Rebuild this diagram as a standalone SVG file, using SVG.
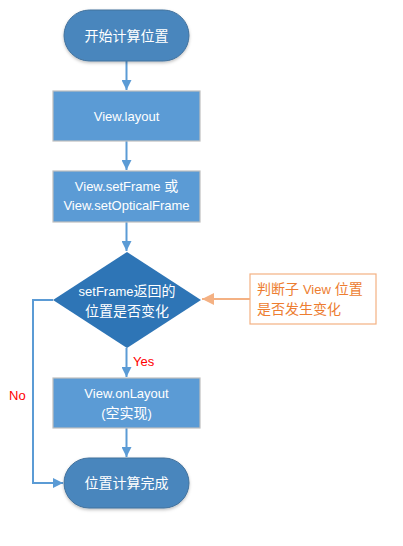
<svg xmlns="http://www.w3.org/2000/svg" width="403" height="546" viewBox="0 0 403 546">
<defs>
<marker id="ab" viewBox="0 0 10 10" refX="10" refY="5" markerWidth="10" markerHeight="10" markerUnits="userSpaceOnUse" orient="auto"><path d="M0,0 L10,5 L0,10 z" fill="#5B9BD5"/></marker>
<marker id="ao" viewBox="0 0 10 10" refX="10" refY="5" markerWidth="12" markerHeight="12" markerUnits="userSpaceOnUse" orient="auto"><path d="M0,0 L10,5 L0,10 z" fill="#F4B183"/></marker>
<filter id="sh" x="-10%" y="-10%" width="120%" height="130%"><feDropShadow dx="0" dy="1.5" stdDeviation="1.5" flood-color="#000" flood-opacity="0.25"/></filter>
</defs>
<style>
.term{fill:#4A86BD;stroke:#41719C;stroke-width:1;filter:url(#sh)}
.proc{fill:#5B9BD5;stroke:#BFBFBF;stroke-width:1.2}
.dec{fill:#2E75B6}
.t{font-family:"Liberation Sans","Noto Sans CJK SC",sans-serif;fill:#fff;text-anchor:middle;font-size:13px}
.c{font-size:14px}
.edge{fill:none;stroke:#5B9BD5;stroke-width:2;marker-end:url(#ab)}
.lbl{font-family:"Liberation Sans","Noto Sans CJK SC",sans-serif;fill:#FF0000;font-size:13px}
.note{font-family:"Liberation Sans","Noto Sans CJK SC",sans-serif;fill:#ED7D31;font-size:14px}
</style>
<rect width="403" height="546" fill="#fff"/>
<g id="connectors">
<line class="edge" x1="126.5" y1="61" x2="126.5" y2="90"/>
<line class="edge" x1="126.5" y1="141" x2="126.5" y2="170"/>
<line class="edge" x1="126.5" y1="222" x2="126.5" y2="251"/>
<line class="edge" x1="126.5" y1="348" x2="126.5" y2="377"/>
<line class="edge" x1="126.5" y1="428" x2="126.5" y2="457"/>
<polyline class="edge" points="53,300 33,300 33,483 63,483"/>
<line x1="250" y1="299" x2="202" y2="299" fill="none" stroke="#F4B183" stroke-width="2" marker-end="url(#ao)"/>
<text class="lbl" x="133" y="366">Yes</text>
<text class="lbl" x="9" y="400">No</text>
</g>
<g id="start">
<rect class="term" x="64" y="10" width="125" height="51" rx="25.5"/>
<text class="t c" x="126.5" y="40.5">开始计算位置</text>
</g>
<g id="layout">
<rect class="proc" x="53" y="91" width="147" height="50"/>
<text class="t" x="126.5" y="120.5">View.layout</text>
</g>
<g id="setframe">
<rect class="proc" x="53" y="171" width="147" height="51"/>
<text class="t" x="126.5" y="191">View.setFrame <tspan class="c">或</tspan></text>
<text class="t" x="126.5" y="210">View.setOpticalFrame</text>
</g>
<g id="decision">
<polygon class="dec" points="127,252 201,300 127,348 53,300"/>
<text class="t" x="127" y="295.5">setFrame<tspan class="c">返回的</tspan></text>
<text class="t c" x="127" y="315.5">位置是否变化</text>
</g>
<g id="note">
<rect x="250" y="274" width="126" height="50" fill="#fff" stroke="#F4B183" stroke-width="1.2"/>
<text class="note" x="257" y="294">判断子 <tspan font-size="13px">View</tspan> 位置</text>
<text class="note" x="257" y="314">是否发生变化</text>
</g>
<g id="onlayout">
<rect class="proc" x="53" y="378" width="147" height="50"/>
<text class="t" x="126.5" y="398">View.onLayout</text>
<text class="t" x="126.5" y="417.5">(<tspan class="c">空实现</tspan>)</text>
</g>
<g id="end">
<rect class="term" x="64" y="458" width="125" height="50" rx="25"/>
<text class="t c" x="126.5" y="488">位置计算完成</text>
</g>
</svg>
